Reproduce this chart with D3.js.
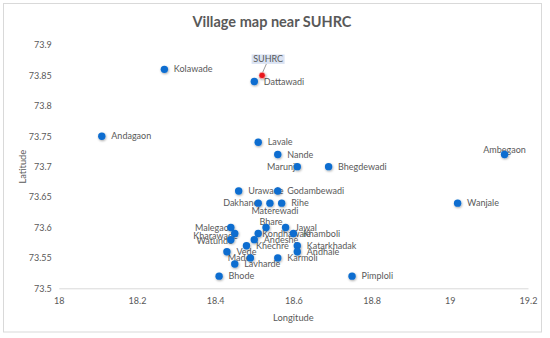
<!DOCTYPE html>
<html>
<head>
<meta charset="utf-8">
<script src="https://cdn.jsdelivr.net/npm/d3@7"></script>
<style>
  body { margin: 0; background: #fff; }
  text { font-family: Lato, "Open Sans", sans-serif; fill: #595959; }
</style>
</head>
<body>
<div id="chart"></div>
<script>
// village coordinates (as plotted: x = longitude, y = latitude)
const villages = ["Kolawade", "Dattawadi", "Andagaon", "Lavale", "Nande", "Marunji", "Bhegdewadi",
  "Urawade", "Godambewadi", "Dakhane", "Materewadi", "Rihe", "Ambegaon", "Wanjale",
  "Malegaon", "Kharawade", "Watunde", "Bhare", "Kondhawale", "Jawal", "Khamboli", "Andeshe",
  "Khechre", "Vede", "Madel", "Lavharde", "Karmoli", "Katarkhadak", "Andhale", "Bhode", "Pimploli"];
const lon = [18.27, 18.50, 18.11, 18.51, 18.56, 18.61, 18.69,
  18.46, 18.56, 18.51, 18.54, 18.57, 19.14, 19.02,
  18.44, 18.45, 18.44, 18.53, 18.51, 18.58, 18.60, 18.50,
  18.48, 18.43, 18.49, 18.45, 18.56, 18.61, 18.61, 18.41, 18.75];
const lat = [73.86, 73.84, 73.75, 73.74, 73.72, 73.70, 73.70,
  73.66, 73.66, 73.64, 73.64, 73.64, 73.72, 73.64,
  73.60, 73.59, 73.58, 73.60, 73.59, 73.60, 73.59, 73.58,
  73.57, 73.56, 73.55, 73.54, 73.55, 73.57, 73.56, 73.52, 73.52];

const hubName = "SUHRC";
const hubLon = 18.52;
const hubLat = 73.85;

const xTicks = [18, 18.2, 18.4, 18.6, 18.8, 19, 19.2];
const yTicks = [73.5, 73.55, 73.6, 73.65, 73.7, 73.75, 73.8, 73.85, 73.9];

// label placement tweaks (default: right of the marker)
const labelPos = {
  "Marunji": [0, 0, "end"],
  "Dakhane": [0, 0, "end"],
  "Materewadi": [5, 8, "middle"],
  "Ambegaon": [0, -5, "middle"],
  "Malegaon": [3, 0, "end"],
  "Kharawade": [3, 2, "end"],
  "Watunde": [2, 1, "end"],
  "Bhare": [5, -6, "middle"],
  "Kondhawale": [4, 0, "start"],
  "Madel": [2, 0, "end"]
};

const W = 550, H = 338;

const svg = d3.select("#chart")
  .append("svg")
  .attr("width", W)
  .attr("height", H);

const defs = svg.append("defs");
defs.append("filter")
  .attr("id", "shadow")
  .attr("x", "-50%").attr("y", "-50%")
  .attr("width", "200%").attr("height", "200%")
  .append("feDropShadow")
  .attr("dx", 0.6).attr("dy", 1)
  .attr("stdDeviation", 0.8)
  .attr("flood-color", "#000")
  .attr("flood-opacity", 0.35);

// chart border
svg.append("rect")
  .attr("x", 3.5).attr("y", 3.5)
  .attr("width", 538).attr("height", 328.5)
  .attr("fill", "#fff")
  .attr("stroke", "#d9d9d9")
  .attr("stroke-width", 1);

const x = d3.scaleLinear().domain([18, 19.2]).range([58.8, 528]);
const y = d3.scaleLinear().domain([73.5, 73.9]).range([288.3, 45]);

// title
svg.append("text")
  .attr("x", 272).attr("y", 27)
  .attr("text-anchor", "middle")
  .style("font-size", "14.5px")
  .style("font-weight", "bold")
  .text("Village map near SUHRC");

// axes
const xAxis = svg.append("g")
  .attr("transform", `translate(0,${y(73.5)})`)
  .call(d3.axisBottom(x).tickValues(xTicks).tickSize(0).tickSizeOuter(0).tickPadding(9)
    .tickFormat(d => String(d)));
xAxis.select(".domain").attr("stroke", "#d9d9d9");

const yAxis = svg.append("g")
  .attr("transform", `translate(${x(18)},0)`)
  .call(d3.axisLeft(y).tickValues(yTicks).tickSize(0).tickPadding(7)
    .tickFormat(d => String(d)));
yAxis.select(".domain").remove();

svg.selectAll(".tick text")
  .attr("fill", "#595959")
  .style("font-family", "Lato, sans-serif")
  .style("font-size", "9px");

// axis titles
svg.append("text")
  .attr("x", (x.range()[0] + x.range()[1]) / 2)
  .attr("y", 320.5)
  .attr("text-anchor", "middle")
  .style("font-size", "9.3px")
  .text("Longitude");

svg.append("text")
  .attr("transform", `translate(25.5,${(y.range()[0] + y.range()[1]) / 2}) rotate(-90)`)
  .attr("text-anchor", "middle")
  .style("font-size", "9.3px")
  .text("Latitude");

const data = villages.map((name, i) => ({name: name, lon: lon[i], lat: lat[i]}));

// data labels
svg.append("g")
  .selectAll("text")
  .data(data)
  .join("text")
  .attr("x", d => x(d.lon) + (labelPos[d.name] ? labelPos[d.name][0] : 9.5))
  .attr("y", d => y(d.lat) + (labelPos[d.name] ? labelPos[d.name][1] : 0))
  .attr("dy", "0.35em")
  .attr("text-anchor", d => labelPos[d.name] ? labelPos[d.name][2] : "start")
  .style("font-size", "9px")
  .text(d => d.name);

// village markers
svg.append("g")
  .selectAll("circle")
  .data(data)
  .join("circle")
  .attr("cx", d => x(d.lon))
  .attr("cy", d => y(d.lat))
  .attr("r", 3.7)
  .attr("fill", "#0b6dd0")
  .attr("filter", "url(#shadow)");

// SUHRC point with callout label
const hx = x(hubLon), hy = y(hubLat);
svg.append("line")
  .attr("x1", hx + 4.5).attr("y1", hy - 12)
  .attr("x2", hx + 0.5).attr("y2", hy - 3)
  .attr("stroke", "#7f7f7f")
  .attr("stroke-width", 0.8);

svg.append("rect")
  .attr("x", hx - 10.5).attr("y", hy - 21)
  .attr("width", 33).attr("height", 9.5)
  .attr("fill", "#dae3f3");

svg.append("text")
  .attr("x", hx + 6).attr("y", hy - 16.2)
  .attr("dy", "0.35em")
  .attr("text-anchor", "middle")
  .style("font-size", "9px")
  .text(hubName);

svg.append("circle")
  .attr("cx", hx).attr("cy", hy)
  .attr("r", 3.2)
  .attr("fill", "#e8151b")
  .attr("stroke", "#f6d0d0")
  .attr("stroke-width", 0.6)
  .attr("filter", "url(#shadow)");
</script>
</body>
</html>
